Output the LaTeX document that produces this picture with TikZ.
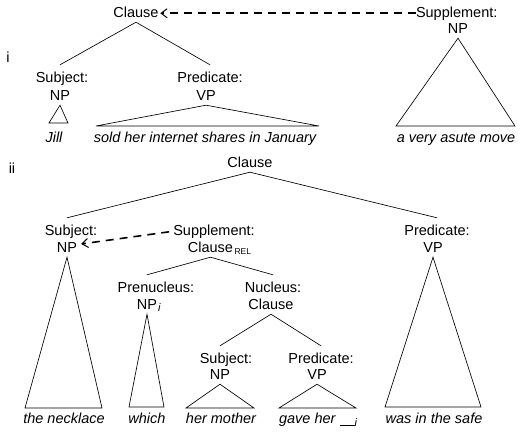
\documentclass[tikz,border=0pt]{standalone}
\usepackage{fontspec}
\setmainfont{Liberation Sans}
\usetikzlibrary{arrows.meta}
\begin{document}
\begin{tikzpicture}[x=1pt,y=-1pt,
  every node/.style={font=\fontsize{14.5}{17}\selectfont, inner xsep=0pt, anchor=base, text height=10.5pt, text depth=3pt},
  lab/.style={inner ysep=6.5pt},
  cat/.style={inner ysep=2pt},
  leaf/.style={inner ysep=0pt, font=\fontsize{14.5}{17}\selectfont\itshape},
  edge/.style={line width=0.65pt},
  supp/.style={line width=1.6pt, dash pattern=on 8pt off 6pt, -{Straight Barb[length=6pt,width=9pt,line width=1pt]}}
]
\useasboundingbox (0,0) rectangle (532,431);
\newcommand{\subsc}[1]{\rlap{\kern1.5pt\raisebox{-2pt}{\fontsize{8.5}{10}\selectfont #1}}}
\newcommand{\subi}{\rlap{\kern1pt\raisebox{-2pt}{\fontsize{11}{12}\selectfont\itshape i}}}

% ---------- tree i ----------
\node (lbli) at (8,62) {i};
\node[cat] (c1) at (136,17) {Clause};
\node[lab] (sup1) at (456.7,17) {Supplement:};
\node[cat] (np1s) at (458,33) {NP};
\node[lab] (subj1) at (62,82) {Subject:};
\node[cat] (np1) at (60,100) {NP};
\node[lab] (pred1) at (210,82) {Predicate:};
\node[cat] (vp1) at (206,100) {VP};
\node[leaf] (jill) at (54,142) {Jill};
\node[leaf] (sold) at (205,142) {sold her internet shares in January};
\node[leaf] (asute) at (456,142) {a very asute move};

\coordinate (jillL) at (49,123); \coordinate (jillR) at (68,123);
\coordinate (soldL) at (96,126); \coordinate (soldR) at (319,126);
\coordinate (asuteL) at (396,126); \coordinate (asuteR) at (515,126);

\draw[edge] (c1.south) -- (subj1.north -| np1.north);
\draw[edge] (c1.south) -- (pred1.north);
\draw[edge] (np1.south) -- (jillL) -- (jillR) -- cycle;
\draw[edge] (vp1.south) -- (soldL) -- (soldR) -- cycle;
\draw[edge] (np1s.south) -- (asuteL) -- (asuteR) -- cycle;
\draw[supp, shorten >=1.5pt] (sup1.west) -- (c1.east);

% ---------- tree ii ----------
\node (lblii) at (12,173) {ii};
\node[cat] (c2) at (250,167) {Clause};
\node[lab] (subj2) at (71,235) {Subject:};
\node[cat] (np2) at (67,252) {NP};
\node[lab] (sup2) at (214,235) {Supplement:};
\node[cat] (rel) at (210.5,252) {Clause\subsc{REL}};
\node[lab] (pred2) at (437,235) {Predicate:};
\node[cat] (vp2) at (433,252) {VP};
\node[lab] (pren) at (156,292) {Prenucleus:};
\node[cat] (npi) at (147,309) {NP\subi};
\node[lab] (nuc) at (273,292) {Nucleus:};
\node[cat] (c3) at (271,309) {Clause};
\node[lab] (subj3) at (226,363) {Subject:};
\node[cat] (np3) at (220,379) {NP};
\node[lab] (pred3) at (321,363) {Predicate:};
\node[cat] (vp3) at (317,379) {VP};

\node[leaf] (neck) at (64,423) {the necklace};
\node[leaf] (which) at (147,423) {which};
\node[leaf] (mother) at (221,423) {her mother};
\node[leaf] (gave) at (318,423) {gave her \rule[-3pt]{15pt}{0.6pt}\raisebox{-3pt}{\fontsize{11}{12}\selectfont i}};
\node[leaf] (safe) at (434,423) {was in the safe};

\coordinate (neckL) at (25,408); \coordinate (neckR) at (102,408);
\coordinate (whichL) at (129,407); \coordinate (whichR) at (164,407);
\coordinate (motherL) at (186,408); \coordinate (motherR) at (254,408);
\coordinate (gaveL) at (279,408); \coordinate (gaveR) at (356,408);
\coordinate (safeL) at (385,407); \coordinate (safeR) at (481,407);

\draw[edge] (c2.south) -- (subj2.north -| np2.north);
\draw[edge] (c2.south) -- (pred2.north);
\draw[edge] (rel.south) -- (pren.north -| npi.north);
\draw[edge] (rel.south) -- (nuc.north);
\draw[edge] (c3.south) -- (subj3.north -| np3.north);
\draw[edge] (c3.south) -- (pred3.north);

\draw[edge] (np2.south) -- (neckL) -- (neckR) -- cycle;
\draw[edge] (npi.south) -- (whichL) -- (whichR) -- cycle;
\draw[edge] (np3.south) -- (motherL) -- (motherR) -- cycle;
\draw[edge] (vp3.south) -- (gaveL) -- (gaveR) -- cycle;
\draw[edge] (vp2.south) -- (safeL) -- (safeR) -- cycle;

\draw[supp, shorten <=4pt, shorten >=4pt] (sup2.west) -- (np2.20);
\end{tikzpicture}
\end{document}
